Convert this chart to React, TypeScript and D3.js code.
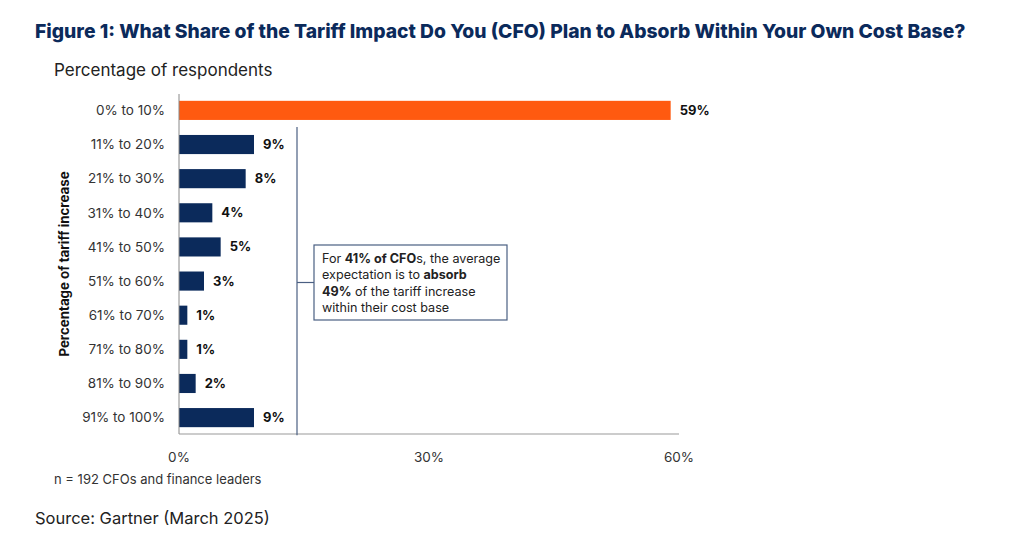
import * as React from "react"
import * as d3 from "d3"

const categories = [
  "0% to 10%",
  "11% to 20%",
  "21% to 30%",
  "31% to 40%",
  "41% to 50%",
  "51% to 60%",
  "61% to 70%",
  "71% to 80%",
  "81% to 90%",
  "91% to 100%",
]
const shares = [59, 9, 8, 4, 5, 3, 1, 1, 2, 9]
const xTicks = [0, 30, 60]

const NAVY = "#0b2a5b"
const ORANGE = "#ff5a10"
const FONT = "Inter, 'Open Sans', sans-serif"

export default function App(): React.JSX.Element {
  const width = 1024
  const height = 537
  const margin = { top: 94, left: 179, right: 345, bottom: 103 }

  const x = d3
    .scaleLinear()
    .domain([0, 60])
    .range([margin.left, width - margin.right])

  const y = d3
    .scaleBand()
    .domain(categories)
    .range([margin.top, height - margin.bottom])
    .paddingInner(0.44)
    .paddingOuter(0.2)

  const bw = y.bandwidth()
  const rows = categories.map((c, i) => ({ c, v: shares[i], i }))
  const axisBottom = height - margin.bottom

  // bracket spans rows 2..10
  const bTop = y(categories[1])! - 8
  const bBot = y(categories[9])! + bw + 8
  const bx = 297
  const boxY = 245
  const boxH = 75
  const boxMid = boxY + boxH / 2

  return (
    <svg
      width={width}
      height={height}
      style={{ position: "absolute", left: 0, top: 0, background: "#fff" }}
      fontFamily={FONT}
    >
      <text x={35} y={38} fontSize={19.3} fontWeight={800} fill={NAVY}>
        Figure 1: What Share of the Tariff Impact Do You (CFO) Plan to Absorb
        Within Your Own Cost Base?
      </text>
      <text x={54} y={76} fontSize={17} fill="#222">
        Percentage of respondents
      </text>

      <text
        transform={`translate(69, ${(margin.top + axisBottom) / 2}) rotate(-90)`}
        textAnchor="middle"
        fontSize={13.3}
        fontWeight={700}
        fill="#111"
      >
        Percentage of tariff increase
      </text>

      {rows.map((d) => (
        <g key={d.c}>
          <text
            x={margin.left - 14}
            y={y(d.c)! + bw / 2}
            dy="0.35em"
            textAnchor="end"
            fontSize={13.5}
            fill="#333"
          >
            {d.c}
          </text>
          <rect
            x={x(0)}
            y={y(d.c)}
            width={x(d.v) - x(0)}
            height={bw}
            fill={d.i === 0 ? ORANGE : NAVY}
          />
          <text
            x={x(d.v) + 9}
            y={y(d.c)! + bw / 2}
            dy="0.35em"
            fontSize={13}
            fontWeight={700}
            fill="#111"
          >
            {d.v}%
          </text>
        </g>
      ))}

      <line
        x1={x(0)}
        x2={x(0)}
        y1={margin.top}
        y2={axisBottom}
        stroke="#888"
        strokeWidth={1}
      />
      <line
        x1={x(0)}
        x2={x(60)}
        y1={axisBottom}
        y2={axisBottom}
        stroke="#999"
        strokeWidth={1}
      />
      {xTicks.map((t) => (
        <text
          key={t}
          x={x(t)}
          y={axisBottom + 28}
          textAnchor="middle"
          fontSize={13.5}
          fill="#333"
        >
          {t}%
        </text>
      ))}

      <line x1={bx} x2={bx} y1={bTop} y2={bBot} stroke="#4a5f82" strokeWidth={1.2} />
      <line x1={bx} x2={314} y1={boxMid} y2={boxMid} stroke="#4a5f82" strokeWidth={1.2} />
      <rect
        x={314}
        y={boxY}
        width={193}
        height={boxH}
        fill="#fff"
        stroke="#4a5f82"
        strokeWidth={1.2}
      />
      <text x={322} y={263} fontSize={12.6} fill="#222">
        <tspan>For </tspan>
        <tspan fontWeight={700}>41% of CFO</tspan>
        <tspan>s, the average</tspan>
        <tspan x={322} dy={16.3}>
          expectation is to{" "}
        </tspan>
        <tspan fontWeight={700}>absorb</tspan>
        <tspan x={322} dy={16.3} fontWeight={700}>
          49%
        </tspan>
        <tspan> of the tariff increase</tspan>
        <tspan x={322} dy={16.3}>
          within their cost base
        </tspan>
      </text>

      <text x={54} y={484} fontSize={13} fill="#333">
        n = 192 CFOs and finance leaders
      </text>
      <text x={35} y={524} fontSize={16.5} fill="#222">
        Source: Gartner (March 2025)
      </text>
    </svg>
  )
}
